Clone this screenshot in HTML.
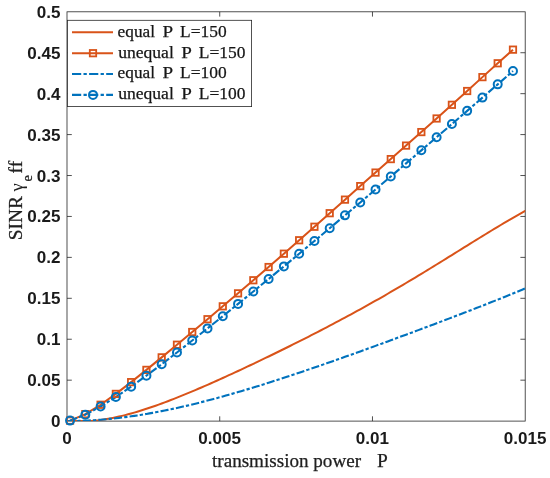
<!DOCTYPE html>
<html><head><meta charset="utf-8"><title>SINR vs transmission power</title>
<style>html,body{margin:0;padding:0;background:#fff}svg{display:block}</style></head>
<body>
<svg width="550" height="478" viewBox="0 0 550 478">
<rect width="550" height="478" fill="#fff"/>
<defs><clipPath id="c"><rect x="67.0" y="11.8" width="458.20000000000005" height="409.3"/></clipPath></defs>
<rect x="67.0" y="11.8" width="458.20" height="409.30" fill="none" stroke="#262626" stroke-width="0.8"/>
<path d="M219.73 421.1 v-4.8 M219.73 11.8 v4.8 M372.47 421.1 v-4.8 M372.47 11.8 v4.8 M67.0 380.17 h4.8 M525.2 380.17 h-4.8 M67.0 339.24 h4.8 M525.2 339.24 h-4.8 M67.0 298.31 h4.8 M525.2 298.31 h-4.8 M67.0 257.38 h4.8 M525.2 257.38 h-4.8 M67.0 216.45 h4.8 M525.2 216.45 h-4.8 M67.0 175.52 h4.8 M525.2 175.52 h-4.8 M67.0 134.59 h4.8 M525.2 134.59 h-4.8 M67.0 93.66 h4.8 M525.2 93.66 h-4.8 M67.0 52.73 h4.8 M525.2 52.73 h-4.8" stroke="#262626" stroke-width="0.8" fill="none"/>
<g font-family="'Liberation Sans', Arial, Helvetica, sans-serif" font-weight="bold" font-size="16.5px" fill="#1a1a1a">
<text transform="translate(60.5 427.10) scale(1.035 1)" text-anchor="end">0</text>
<text transform="translate(60.5 386.17) scale(1.035 1)" text-anchor="end">0.05</text>
<text transform="translate(60.5 345.24) scale(1.035 1)" text-anchor="end">0.1</text>
<text transform="translate(60.5 304.31) scale(1.035 1)" text-anchor="end">0.15</text>
<text transform="translate(60.5 263.38) scale(1.035 1)" text-anchor="end">0.2</text>
<text transform="translate(60.5 222.45) scale(1.035 1)" text-anchor="end">0.25</text>
<text transform="translate(60.5 181.52) scale(1.035 1)" text-anchor="end">0.3</text>
<text transform="translate(60.5 140.59) scale(1.035 1)" text-anchor="end">0.35</text>
<text transform="translate(60.5 99.66) scale(1.035 1)" text-anchor="end">0.4</text>
<text transform="translate(60.5 58.73) scale(1.035 1)" text-anchor="end">0.45</text>
<text transform="translate(60.5 17.80) scale(1.035 1)" text-anchor="end">0.5</text>
<text transform="translate(67.00 444.2) scale(1.035 1)" text-anchor="middle">0</text>
<text transform="translate(219.73 444.2) scale(1.035 1)" text-anchor="middle">0.005</text>
<text transform="translate(372.47 444.2) scale(1.035 1)" text-anchor="middle">0.01</text>
<text transform="translate(525.20 444.2) scale(1.035 1)" text-anchor="middle">0.015</text>
</g>
<g font-family="'Liberation Serif', 'Times New Roman', serif" font-size="19.4px" fill="#202020" stroke="#202020" stroke-width="0.25">
<text x="212" y="467.2" font-size="19.1px">transmission power</text>
<text x="377" y="467.2">P</text>
<g transform="translate(22.3 240.2) rotate(-90)">
<text x="0" y="0">SINR</text>
<text x="48.6" y="0.6" font-size="18.6px" stroke="none">γ</text>
<text x="58.8" y="9.3" font-size="14.5px">e</text>
<text x="66.8" y="0">ff</text>
</g></g>
<g clip-path="url(#c)" fill="none" stroke-linejoin="round">
<path d="M67.00 421.10 L70.05 421.10 L73.11 421.10 L76.16 421.10 L79.22 421.10 L82.27 421.10 L85.33 421.10 L88.38 421.10 L91.44 421.08 L94.49 420.79 L97.55 420.44 L100.60 420.04 L103.66 419.58 L106.71 419.08 L109.77 418.53 L112.82 417.93 L115.87 417.28 L118.93 416.60 L121.98 415.87 L125.04 415.11 L128.09 414.31 L131.15 413.47 L134.20 412.60 L137.26 411.70 L140.31 410.77 L143.37 409.81 L146.42 408.81 L149.48 407.80 L152.53 406.75 L155.59 405.69 L158.64 404.60 L161.69 403.49 L164.75 402.35 L167.80 401.20 L170.86 400.03 L173.91 398.84 L176.97 397.63 L180.02 396.41 L183.08 395.17 L186.13 393.92 L189.19 392.65 L192.24 391.37 L195.30 390.08 L198.35 388.78 L201.41 387.46 L204.46 386.14 L207.51 384.80 L210.57 383.46 L213.62 382.10 L216.68 380.74 L219.73 379.36 L222.79 377.98 L225.84 376.60 L228.90 375.20 L231.95 373.80 L235.01 372.39 L238.06 370.97 L241.12 369.55 L244.17 368.12 L247.23 366.69 L250.28 365.24 L253.33 363.80 L256.39 362.34 L259.44 360.89 L262.50 359.42 L265.55 357.95 L268.61 356.48 L271.66 355.00 L274.72 353.51 L277.77 352.02 L280.83 350.52 L283.88 349.02 L286.94 347.51 L289.99 345.99 L293.05 344.47 L296.10 342.94 L299.15 341.41 L302.21 339.87 L305.26 338.33 L308.32 336.77 L311.37 335.22 L314.43 333.65 L317.48 332.08 L320.54 330.50 L323.59 328.91 L326.65 327.32 L329.70 325.72 L332.76 324.11 L335.81 322.49 L338.87 320.87 L341.92 319.24 L344.97 317.60 L348.03 315.95 L351.08 314.29 L354.14 312.63 L357.19 310.96 L360.25 309.28 L363.30 307.59 L366.36 305.89 L369.41 304.18 L372.47 302.46 L375.52 300.74 L378.58 299.01 L381.63 297.26 L384.69 295.51 L387.74 293.75 L390.79 291.98 L393.85 290.21 L396.90 288.42 L399.96 286.63 L403.01 284.82 L406.07 283.01 L409.12 281.20 L412.18 279.37 L415.23 277.54 L418.29 275.70 L421.34 273.85 L424.40 271.99 L427.45 270.13 L430.51 268.27 L433.56 266.39 L436.61 264.52 L439.67 262.63 L442.72 260.75 L445.78 258.86 L448.83 256.96 L451.89 255.07 L454.94 253.17 L458.00 251.27 L461.05 249.37 L464.11 247.47 L467.16 245.57 L470.22 243.67 L473.27 241.77 L476.33 239.88 L479.38 237.99 L482.43 236.11 L485.49 234.23 L488.54 232.37 L491.60 230.51 L494.65 228.65 L497.71 226.81 L500.76 224.99 L503.82 223.17 L506.87 221.37 L509.93 219.59 L512.98 217.82 L516.04 216.08 L519.09 214.35 L522.15 212.65 L525.20 210.97 L528.25 209.31 L531.31 207.68" stroke="#D95319" stroke-width="2"/>
<path d="M67.00 421.10 L70.05 421.09 L73.11 421.06 L76.16 421.00 L79.22 420.92 L82.27 420.82 L85.33 420.69 L88.38 420.55 L91.44 420.38 L94.49 420.19 L97.55 419.97 L100.60 419.74 L103.66 419.49 L106.71 419.21 L109.77 418.92 L112.82 418.61 L115.87 418.27 L118.93 417.92 L121.98 417.55 L125.04 417.16 L128.09 416.75 L131.15 416.32 L134.20 415.88 L137.26 415.42 L140.31 414.94 L143.37 414.44 L146.42 413.93 L149.48 413.40 L152.53 412.85 L155.59 412.29 L158.64 411.71 L161.69 411.12 L164.75 410.51 L167.80 409.89 L170.86 409.25 L173.91 408.60 L176.97 407.94 L180.02 407.26 L183.08 406.56 L186.13 405.86 L189.19 405.14 L192.24 404.41 L195.30 403.67 L198.35 402.91 L201.41 402.14 L204.46 401.36 L207.51 400.57 L210.57 399.77 L213.62 398.96 L216.68 398.14 L219.73 397.30 L222.79 396.46 L225.84 395.61 L228.90 394.74 L231.95 393.87 L235.01 392.99 L238.06 392.10 L241.12 391.20 L244.17 390.29 L247.23 389.38 L250.28 388.45 L253.33 387.52 L256.39 386.58 L259.44 385.63 L262.50 384.68 L265.55 383.72 L268.61 382.75 L271.66 381.77 L274.72 380.79 L277.77 379.81 L280.83 378.81 L283.88 377.81 L286.94 376.81 L289.99 375.80 L293.05 374.78 L296.10 373.76 L299.15 372.73 L302.21 371.70 L305.26 370.67 L308.32 369.63 L311.37 368.58 L314.43 367.54 L317.48 366.48 L320.54 365.43 L323.59 364.37 L326.65 363.30 L329.70 362.23 L332.76 361.16 L335.81 360.09 L338.87 359.01 L341.92 357.93 L344.97 356.85 L348.03 355.76 L351.08 354.67 L354.14 353.58 L357.19 352.49 L360.25 351.39 L363.30 350.29 L366.36 349.19 L369.41 348.08 L372.47 346.98 L375.52 345.87 L378.58 344.76 L381.63 343.64 L384.69 342.53 L387.74 341.41 L390.79 340.29 L393.85 339.17 L396.90 338.05 L399.96 336.92 L403.01 335.80 L406.07 334.67 L409.12 333.54 L412.18 332.41 L415.23 331.27 L418.29 330.13 L421.34 328.99 L424.40 327.85 L427.45 326.71 L430.51 325.57 L433.56 324.42 L436.61 323.27 L439.67 322.12 L442.72 320.96 L445.78 319.80 L448.83 318.64 L451.89 317.48 L454.94 316.32 L458.00 315.15 L461.05 313.98 L464.11 312.80 L467.16 311.62 L470.22 310.44 L473.27 309.26 L476.33 308.07 L479.38 306.88 L482.43 305.68 L485.49 304.48 L488.54 303.28 L491.60 302.07 L494.65 300.85 L497.71 299.63 L500.76 298.41 L503.82 297.18 L506.87 295.94 L509.93 294.70 L512.98 293.46 L516.04 292.20 L519.09 290.94 L522.15 289.68 L525.20 288.40 L528.25 287.12 L531.31 285.83" stroke="#0072BD" stroke-width="2.1" stroke-dasharray="8.12 2.11 3.31 2.16" stroke-dashoffset="0.00"/>
<path d="M70.05 420.61 L85.33 414.12 L100.60 404.76 L115.87 393.89 L131.15 382.13 L146.42 369.88 L161.69 357.36 L176.97 344.72 L192.24 332.00 L207.51 319.20 L222.79 306.33 L238.06 293.35 L253.33 280.25 L268.61 267.03 L283.88 253.69 L299.15 240.25 L314.43 226.74 L329.70 213.20 L344.97 199.64 L360.25 186.10 L375.52 172.58 L390.79 159.09 L406.07 145.60 L421.34 132.08 L436.61 118.49 L451.89 104.81 L467.16 91.01 L482.43 77.13 L497.71 63.27 L512.98 49.65" stroke="#D95319" stroke-width="2"/>
<path d="M70.05 420.61 L85.33 414.68 L100.60 406.49 L115.87 397.02 L131.15 386.65 L146.42 375.65 L161.69 364.21 L176.97 352.46 L192.24 340.51 L207.51 328.41 L222.79 316.19 L238.06 303.88 L253.33 291.47 L268.61 278.98 L283.88 266.41 L299.15 253.75 L314.43 241.02 L329.70 228.22 L344.97 215.35 L360.25 202.43 L375.52 189.47 L390.79 176.46 L406.07 163.41 L421.34 150.33 L436.61 137.21 L451.89 124.05 L467.16 110.86 L482.43 97.61 L497.71 84.34 L512.98 71.04" stroke="#0072BD" stroke-width="2.1" stroke-dasharray="8.12 2.11 3.31 2.16" stroke-dashoffset="0.68"/>
</g>
<g fill="none" stroke="#D95319" stroke-width="1.8"><rect x="66.85" y="417.41" width="6.4" height="6.4"/><rect x="82.13" y="410.92" width="6.4" height="6.4"/><rect x="97.40" y="401.56" width="6.4" height="6.4"/><rect x="112.67" y="390.69" width="6.4" height="6.4"/><rect x="127.95" y="378.93" width="6.4" height="6.4"/><rect x="143.22" y="366.68" width="6.4" height="6.4"/><rect x="158.49" y="354.16" width="6.4" height="6.4"/><rect x="173.77" y="341.52" width="6.4" height="6.4"/><rect x="189.04" y="328.80" width="6.4" height="6.4"/><rect x="204.31" y="316.00" width="6.4" height="6.4"/><rect x="219.59" y="303.13" width="6.4" height="6.4"/><rect x="234.86" y="290.15" width="6.4" height="6.4"/><rect x="250.13" y="277.05" width="6.4" height="6.4"/><rect x="265.41" y="263.83" width="6.4" height="6.4"/><rect x="280.68" y="250.49" width="6.4" height="6.4"/><rect x="295.95" y="237.05" width="6.4" height="6.4"/><rect x="311.23" y="223.54" width="6.4" height="6.4"/><rect x="326.50" y="210.00" width="6.4" height="6.4"/><rect x="341.77" y="196.44" width="6.4" height="6.4"/><rect x="357.05" y="182.90" width="6.4" height="6.4"/><rect x="372.32" y="169.38" width="6.4" height="6.4"/><rect x="387.59" y="155.89" width="6.4" height="6.4"/><rect x="402.87" y="142.40" width="6.4" height="6.4"/><rect x="418.14" y="128.88" width="6.4" height="6.4"/><rect x="433.41" y="115.29" width="6.4" height="6.4"/><rect x="448.69" y="101.61" width="6.4" height="6.4"/><rect x="463.96" y="87.81" width="6.4" height="6.4"/><rect x="479.23" y="73.93" width="6.4" height="6.4"/><rect x="494.51" y="60.07" width="6.4" height="6.4"/><rect x="509.78" y="46.45" width="6.4" height="6.4"/></g>
<g fill="none" stroke="#0072BD" stroke-width="2"><circle cx="70.05" cy="420.61" r="4"/><circle cx="85.33" cy="414.68" r="4"/><circle cx="100.60" cy="406.49" r="4"/><circle cx="115.87" cy="397.02" r="4"/><circle cx="131.15" cy="386.65" r="4"/><circle cx="146.42" cy="375.65" r="4"/><circle cx="161.69" cy="364.21" r="4"/><circle cx="176.97" cy="352.46" r="4"/><circle cx="192.24" cy="340.51" r="4"/><circle cx="207.51" cy="328.41" r="4"/><circle cx="222.79" cy="316.19" r="4"/><circle cx="238.06" cy="303.88" r="4"/><circle cx="253.33" cy="291.47" r="4"/><circle cx="268.61" cy="278.98" r="4"/><circle cx="283.88" cy="266.41" r="4"/><circle cx="299.15" cy="253.75" r="4"/><circle cx="314.43" cy="241.02" r="4"/><circle cx="329.70" cy="228.22" r="4"/><circle cx="344.97" cy="215.35" r="4"/><circle cx="360.25" cy="202.43" r="4"/><circle cx="375.52" cy="189.47" r="4"/><circle cx="390.79" cy="176.46" r="4"/><circle cx="406.07" cy="163.41" r="4"/><circle cx="421.34" cy="150.33" r="4"/><circle cx="436.61" cy="137.21" r="4"/><circle cx="451.89" cy="124.05" r="4"/><circle cx="467.16" cy="110.86" r="4"/><circle cx="482.43" cy="97.61" r="4"/><circle cx="497.71" cy="84.34" r="4"/><circle cx="512.98" cy="71.04" r="4"/></g>
<rect x="67.4" y="20.3" width="184.2" height="86.3" fill="#fff" stroke="#262626" stroke-width="0.8"/>
<path d="M72 32.3 H113" stroke="#D95319" stroke-width="2"/>
<path d="M72 53.2 H113" stroke="#D95319" stroke-width="2"/>
<rect x="89.80" y="50.00" width="6.4" height="6.4" fill="none" stroke="#D95319" stroke-width="1.8"/>
<path d="M72 74.0 H113" stroke="#0072BD" stroke-width="2.1" stroke-dasharray="9.2 2.3 3.3 2.3"/>
<path d="M72 94.9 H113" stroke="#0072BD" stroke-width="2.1" stroke-dasharray="9.2 2.3 3.3 2.3"/>
<circle cx="93" cy="94.9" r="4" fill="none" stroke="#0072BD" stroke-width="2"/>
<g font-family="'Liberation Serif', 'Times New Roman', serif" font-size="17.5px" fill="#161616" stroke="#161616" stroke-width="0.25">
<text x="117.6" y="36.7" textLength="37.4" lengthAdjust="spacingAndGlyphs">equal</text>
<text x="162.4" y="36.7" textLength="10.6" lengthAdjust="spacingAndGlyphs">P</text>
<text x="180.0" y="36.7" textLength="46.6" lengthAdjust="spacingAndGlyphs">L=150</text>
<text x="118.2" y="57.5" textLength="55.6" lengthAdjust="spacingAndGlyphs">unequal</text>
<text x="181.20000000000002" y="57.5" textLength="10.6" lengthAdjust="spacingAndGlyphs">P</text>
<text x="198.8" y="57.5" textLength="46.6" lengthAdjust="spacingAndGlyphs">L=150</text>
<text x="117.6" y="78.3" textLength="37.4" lengthAdjust="spacingAndGlyphs">equal</text>
<text x="162.4" y="78.3" textLength="10.6" lengthAdjust="spacingAndGlyphs">P</text>
<text x="180.0" y="78.3" textLength="46.6" lengthAdjust="spacingAndGlyphs">L=100</text>
<text x="118.2" y="99.2" textLength="55.6" lengthAdjust="spacingAndGlyphs">unequal</text>
<text x="181.20000000000002" y="99.2" textLength="10.6" lengthAdjust="spacingAndGlyphs">P</text>
<text x="198.8" y="99.2" textLength="46.6" lengthAdjust="spacingAndGlyphs">L=100</text>
</g>
</svg>
</body></html>
